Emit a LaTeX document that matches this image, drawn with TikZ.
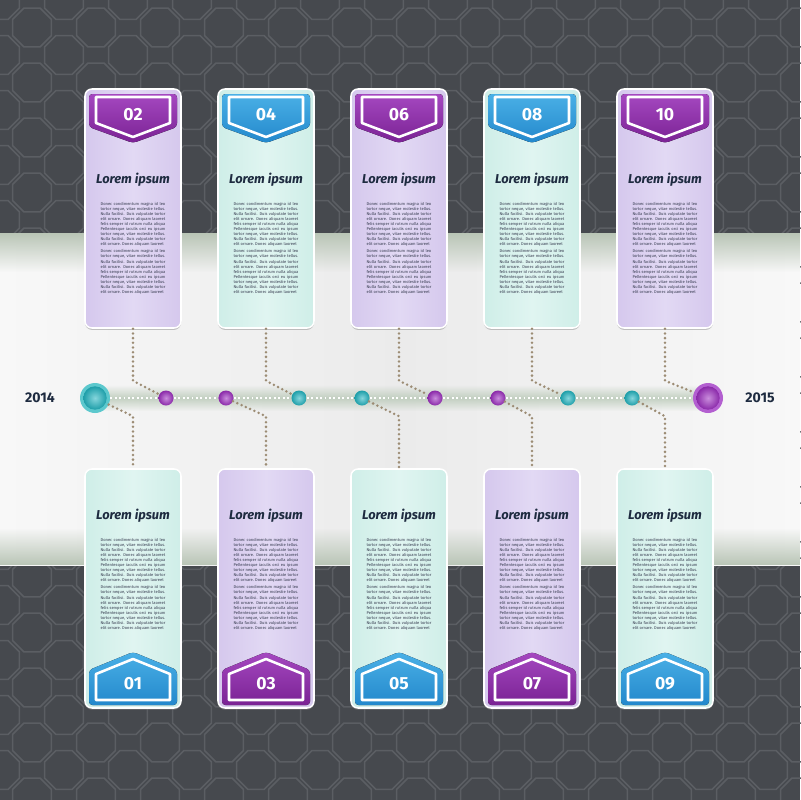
\documentclass[tikz,border=0pt]{standalone}
\usepackage{fontspec}
\setmainfont{Fira Sans}
\usetikzlibrary{calc,shadows,fadings}
\definecolor{cBg}     {HTML}{46494E}
\definecolor{cPat}    {HTML}{5B5E63}
\definecolor{cBand}   {HTML}{EBEBEB}
\definecolor{cBandLt} {HTML}{F8F8F8}
\definecolor{cEdge}   {HTML}{B9C5B6}
\definecolor{cGlow}   {HTML}{B8C8B6}
\definecolor{cLav}    {HTML}{D5C8ED}
\definecolor{cLavHi}  {HTML}{E2D9F4}
\definecolor{cMint}   {HTML}{CFEEE8}
\definecolor{cMintHi} {HTML}{E0F5F1}
\definecolor{cPurHi}  {HTML}{A548C0}
\definecolor{cPurLo}  {HTML}{7A2294}
\definecolor{cBluHi}  {HTML}{4AB0E6}
\definecolor{cBluLo}  {HTML}{2388CC}
\definecolor{cInk}    {HTML}{1E2B40}
\definecolor{cBody}   {HTML}{353A4E}
\definecolor{cConn}   {HTML}{9C8C74}
\definecolor{cDotPur} {HTML}{9D2FC0}
\definecolor{cDotCyan}{HTML}{22B4C0}
\definecolor{cRingCy} {HTML}{5CC8CD}
\definecolor{cRingPu} {HTML}{B35FD0}
\tikzfading[name=midfade, top color=transparent!100, bottom color=transparent!100,
            middle color=transparent!20]
\tikzset{
  card/.style     ={rectangle,rounded corners=2.1mm,minimum width=28.8mm,
                    minimum height=71.7mm,inner sep=0pt,draw=white,line width=1.3pt,
                    drop shadow={shadow xshift=0pt,shadow yshift=-1.6pt,opacity=.45}},
  lavcard/.style  ={card,left color=cLav,right color=cLav,middle color=cLavHi},
  mintcard/.style ={card,left color=cMint,right color=cMint,middle color=cMintHi},
  purbadge/.style ={top color=cPurHi,bottom color=cPurLo},
  blubadge/.style ={top color=cBluHi,bottom color=cBluLo},
  badgeline/.style={draw=white,line width=2.2pt,line join=round},
  cardtitle/.style={font=\bfseries\itshape\fontsize{11}{13}\selectfont,text=cInk,inner sep=0pt},
  cardbody/.style ={font=\fontsize{3.45}{4.3}\selectfont,text=cBody,text width=19.4mm,
                    align=justify,inner sep=0pt},
  badgenum/.style ={font=\bfseries\fontsize{15}{15}\selectfont,text=white,inner sep=0pt},
  yearlbl/.style  ={font=\bfseries\fontsize{12}{12}\selectfont,text=cInk,inner sep=0pt},
  patline/.style  ={draw=cPat,line width=1.4pt},
  conn/.style     ={draw=cConn,line width=2.4pt,dash pattern=on 0pt off 4pt,line cap=round},
  tline/.style    ={draw=white,line width=1.8pt,dash pattern=on 1.6pt off 2.2pt},
  dotp/.style     ={circle,minimum size=4.5mm,inner sep=0pt,shading=radial,
                    inner color=cDotPur!55!white,outer color=cDotPur!88!black},
  dotc/.style     ={circle,minimum size=4.5mm,inner sep=0pt,shading=radial,
                    inner color=cDotCyan!55!white,outer color=cDotCyan!88!black},
}
\newcommand{\loremtext}{Donec condimentum magna id leo tortor neque, vitae molestie
  tellus. Nulla facilisi. Duis vulputate tortor elit ornare. Donec aliquam laoreet
  felis semper id rutrum nulla aliqua Pellentesque iaculis orci eu ipsum tortor neque,
  vitae molestie tellus. Nulla facilisi. Duis vulputate tortor elit ornare. Donec
  aliquam laoreet\par\vspace{2.2pt}Donec condimentum magna id leo tortor neque, vitae
  molestie tellus. Nulla facilisi. Duis vulputate tortor elit ornare. Donec aliquam
  laoreet felis semper id rutrum nulla aliqua Pellentesque iaculis orci eu ipsum tortor
  neque, vitae molestie tellus. Nulla facilisi. Duis vulputate tortor elit ornare.
  Donec aliquam laoreet}

\begin{document}
\begin{tikzpicture}[x=0.3mm,y=-0.3mm]
\useasboundingbox (0,0) rectangle (800,800);

% ===== backdrop ==========================================================
\fill[cBg] (0,0) rectangle (800,800);
\newcommand{\octo}[2]{%
  \draw[patline] (#1,#2) +(22.5:21) -- +(67.5:21) -- +(112.5:21) -- +(157.5:21)
    -- +(202.5:21) -- +(247.5:21) -- +(292.5:21) -- +(337.5:21) -- cycle;}
\foreach \i in {0,...,13}{
  \foreach \j in {0,...,15}{
    \octo{\i*64}{\j*55}
    \octo{\i*64+32}{\j*55+27.5}
  }
}
\fill[left color=cBandLt,right color=cBandLt,middle color=cBand] (0,233) rectangle (800,565);
\fill[cEdge,path fading=south] (0,233) rectangle (800,272);
\fill[cEdge,path fading=north] (0,528) rectangle (800,565);
\fill[cGlow,path fading=midfade] (95,385) rectangle (708,411);

% ===== cards =============================================================
\newcommand{\topcard}[5]{%
  \node[#4] (#1) at (#2,208.5) {};
  \fill[#5,rounded corners=3pt] (#2-44,94) -- (#2+44,94) -- (#2+44,127) -- (#2,143)
    -- (#2-44,127) -- cycle;
  \draw[badgeline] (#2-37,97) -- (#2+37,97) -- (#2+37,123) -- (#2,137)
    -- (#2-37,123) -- cycle;
  \node[badgenum]  (#1n) at (#2,115)   {#3};
  \node[cardtitle] (#1t) at (#2,180)   {Lorem ipsum};
  \node[cardbody]  (#1b) at (#2,248) {\loremtext};}
\newcommand{\botcard}[5]{%
  \node[#4] (#1) at (#2,588.5) {};
  \fill[#5,rounded corners=3pt] (#2-44,705) -- (#2-44,670) -- (#2,652) -- (#2+44,670)
    -- (#2+44,705) -- cycle;
  \draw[badgeline] (#2-37,700) -- (#2-37,674) -- (#2,659) -- (#2+37,674)
    -- (#2+37,700) -- cycle;
  \node[badgenum]  (#1n) at (#2,684) {#3};
  \node[cardtitle] (#1t) at (#2,516) {Lorem ipsum};
  \node[cardbody]  (#1b) at (#2,584) {\loremtext};}

\topcard{c02}{133}{02}{lavcard}{purbadge}
\topcard{c04}{266}{04}{mintcard}{blubadge}
\topcard{c06}{399}{06}{lavcard}{purbadge}
\topcard{c08}{532}{08}{mintcard}{blubadge}
\topcard{c10}{665}{10}{lavcard}{purbadge}

\botcard{c01}{133}{01}{mintcard}{blubadge}
\botcard{c03}{266}{03}{lavcard}{purbadge}
\botcard{c05}{399}{05}{mintcard}{blubadge}
\botcard{c07}{532}{07}{lavcard}{purbadge}
\botcard{c09}{665}{09}{mintcard}{blubadge}

% ===== timeline ==========================================================
\node[circle,fill=cRingCy,minimum size=9mm,inner sep=0pt] (start) at (95,398) {};
\node[dotc,minimum size=7mm] (startin) at (95,398) {};
\node[circle,fill=cRingPu,minimum size=9mm,inner sep=0pt] (finish) at (708,398) {};
\node[dotp,minimum size=7mm] (finishin) at (708,398) {};
\node[dotp] (p1) at (166,398) {};
\node[dotp] (p2) at (226,398) {};
\node[dotc] (q1) at (299,398) {};
\node[dotc] (q2) at (362,398) {};
\node[dotp] (p3) at (435,398) {};
\node[dotp] (p4) at (498,398) {};
\node[dotc] (q3) at (568,398) {};
\node[dotc] (q4) at (632,398) {};

\foreach \a/\b in {start/p1,p1/p2,p2/q1,q1/q2,q2/p3,p3/p4,p4/q3,q3/q4,q4/finish}
  \draw[tline] (\a) -- (\b);

\node[yearlbl] (y14) at (40,398)  {2014};
\node[yearlbl] (y15) at (760,398) {2015};

% cards down to the line, line up to the cards
\draw[conn] (c02.south) -- ($(c02.south)+(0,52)$) -- (p1);
\draw[conn] (c04.south) -- ($(c04.south)+(0,52)$) -- (q1);
\draw[conn] (c06.south) -- ($(c06.south)+(0,52)$) -- (p3);
\draw[conn] (c08.south) -- ($(c08.south)+(0,52)$) -- (q3);
\draw[conn] (c10.south) -- ($(c10.south)+(0,52)$) -- (finish);
\draw[conn] (start) -- ($(c01.north)+(0,-52)$) -- (c01.north);
\draw[conn] (p2)    -- ($(c03.north)+(0,-52)$) -- (c03.north);
\draw[conn] (q2)    -- ($(c05.north)+(0,-52)$) -- (c05.north);
\draw[conn] (p4)    -- ($(c07.north)+(0,-52)$) -- (c07.north);
\draw[conn] (q4)    -- ($(c09.north)+(0,-52)$) -- (c09.north);
\end{tikzpicture}
\end{document}
